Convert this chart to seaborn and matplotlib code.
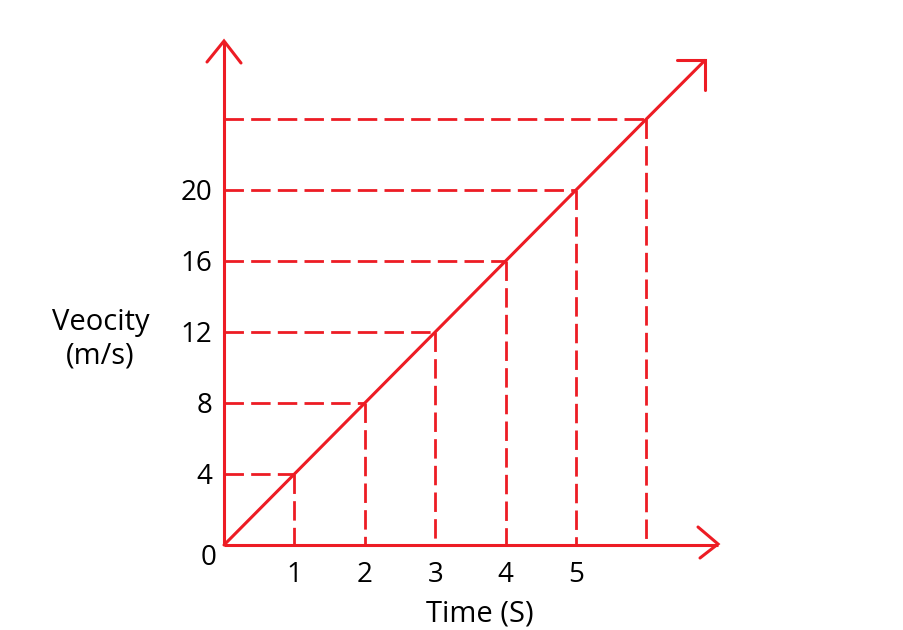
import matplotlib
matplotlib.use("Agg")
import matplotlib.pyplot as plt
import seaborn as sns
import numpy as np

# ---- data ----
times = [1, 2, 3, 4, 5, 6]
velocities = [4, 8, 12, 16, 20, 24]
line_t = [0, 1, 2, 3, 4, 5, 6, 6.83]
line_v = [0, 4, 8, 12, 16, 20, 24, 27.3]
x_tick_values = [1, 2, 3, 4, 5]
x_tick_labels = ["1", "2", "3", "4", "5"]
y_tick_values = [4, 8, 12, 16, 20]
y_tick_labels = ["4", "8", "12", "16", "20"]
x_label = "Time (S)"
y_label_lines = ["Veocity", "(m/s)"]

RED = "#ED1C24"
W, H = 904, 630
ox, oy = 224, 545            # origin pixel
px_per_t = 70.4
px_per_v = 71.0 / 4.0
def tx(px):  # pixel x -> data t
    return (px - ox) / px_per_t
def vy(py):  # pixel y (from top) -> data v
    return (oy - py) / px_per_v

sns.set_theme(style="white")
plt.rcParams["font.family"] = ["Open Sans", "DejaVu Sans"]

fig = plt.figure(figsize=(W / 100, H / 100), dpi=100)
ax = fig.add_axes([0, 0, 1, 1])
ax.set_xlim(tx(0), tx(W))
ax.set_ylim(vy(H), vy(0))
ax.axis("off")

lw = 2.2
dash_lw = 2.0

# axes lines with arrowheads
y_top = vy(41)
x_end = tx(718)
ax.plot([0, 0], [0, y_top], color=RED, lw=lw, solid_capstyle="butt")
ax.plot([tx(207), 0, tx(241)], [vy(62), y_top, vy(63)], color=RED, lw=lw,
        solid_joinstyle="miter")
ax.plot([0, x_end], [0, 0], color=RED, lw=lw, solid_capstyle="butt")
ax.plot([tx(698), x_end, tx(700)], [vy(527), vy(544), vy(558)], color=RED, lw=lw,
        solid_joinstyle="miter")

# dashed guide lines
for t, v in zip(times, velocities):
    ax.plot([0, t], [v, v], color=RED, lw=dash_lw, dashes=(7, 2.6))
    ax.plot([t, t], [v, 0], color=RED, lw=dash_lw, dashes=(7, 2.6))

# main line
sns.lineplot(x=line_t, y=line_v, ax=ax, color=RED, lw=lw, sort=False,
             estimator=None)
te, ve = line_t[-1], line_v[-1]
ax.plot([tx(677), te, te], [ve, ve, vy(90)], color=RED, lw=lw,
        solid_joinstyle="miter")

fs = 20
# y tick labels
for v, lab in zip(y_tick_values, y_tick_labels):
    ax.text(tx(212), v - 10 / px_per_v, lab, ha="right", va="baseline",
            fontsize=fs, color="black")
ax.text(tx(209), vy(565), "0", ha="center", va="baseline", fontsize=fs,
        color="black")
# x tick labels
for t, lab in zip(x_tick_values, x_tick_labels):
    ax.text(t, vy(582), lab, ha="center", va="baseline", fontsize=fs,
            color="black")

ax.text(tx(480), vy(622), x_label, ha="center", va="baseline", fontsize=21,
        color="black")
ax.text(tx(101), vy(330), y_label_lines[0], ha="center", va="baseline",
        fontsize=21, color="black")
ax.text(tx(100), vy(364), y_label_lines[1], ha="center", va="baseline",
        fontsize=21, color="black")

fig.savefig("out.png", dpi=100, facecolor="white")
